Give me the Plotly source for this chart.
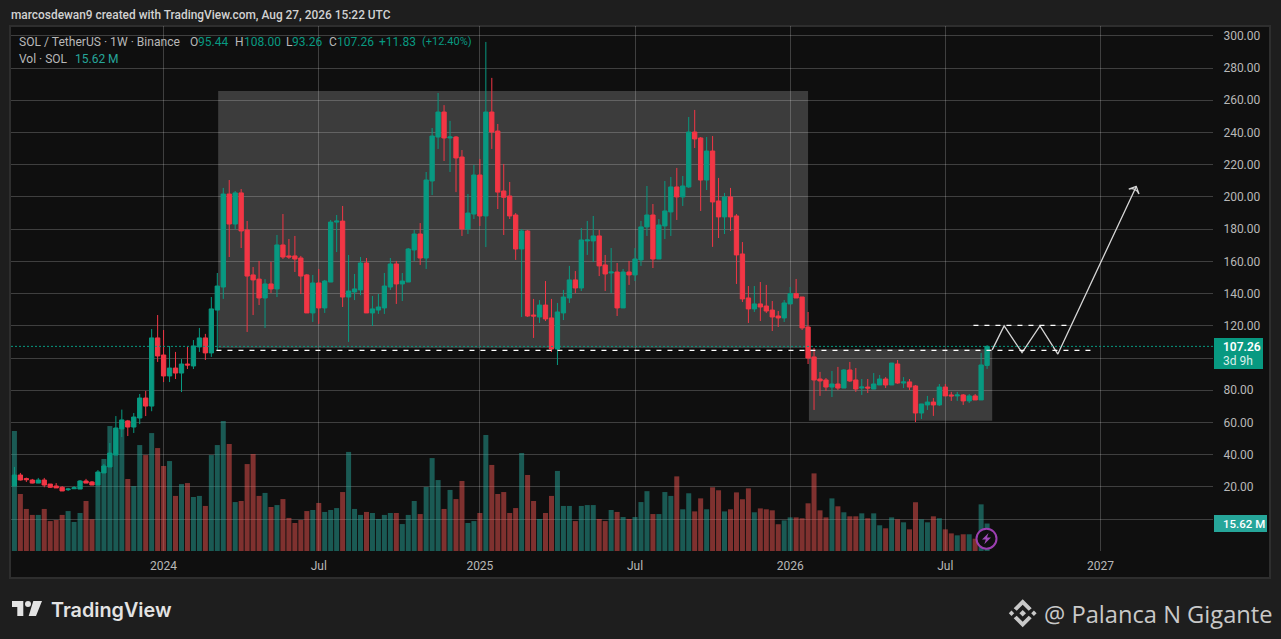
import pandas as pd
import plotly.graph_objects as go

#Data
first_week = "2023-07-10"

opens = [20.6, 27.4, 25.2, 24.3, 22.4, 24.3, 21.8, 20.6, 19.8, 18.3,
         18.9, 18.7, 23.7, 23.1, 21.2, 28.7, 32.4, 39.8, 56.0, 61.0,
         57.2, 62.8, 75.2, 70.2, 112.5, 101.9, 88.9, 93.8, 90.7, 96.3,
         95.1, 106.9, 112.5, 103.2, 129.8, 144.1, 201.8, 183.2, 202.5, 179.5,
         151.6, 149.0, 137.3, 146.0, 142.9, 170.2, 163.4, 163.4, 162.1, 151.6,
         128.0, 146.6, 131.1, 147.2, 184.4, 185.0, 137.9, 141.0, 142.3, 159.0,
         128.0, 129.8, 131.1, 144.1, 158.4, 146.0, 147.2, 167.1, 177.0, 162.1,
         209.9, 237.2, 252.7, 236.6, 237.2, 224.8, 180.1, 189.4, 213.6, 188.2,
         252.7, 240.9, 203.7, 200.6, 188.8, 167.7, 178.9,
         126.7, 125.5, 132.9, 124.9, 105.6, 128.0, 137.3, 148.5, 143.5, 172.7,
         172.7, 175.8, 157.8, 152.8, 153.4, 131.1, 153.4, 151.6, 160.9, 181.4,
         188.8, 161.5, 182.0, 190.7, 206.2, 200.0, 206.2, 240.3, 236.6, 210.5,
         228.5, 197.5, 187.6, 200.0, 188.2, 164.6, 137.3, 130.5, 133.6, 132.3,
         129.8, 126.1, 124.9, 133.6, 140.0, 137.9, 119.3,
         100.7, 87.0, 86.4, 82.0, 83.9, 81.4, 92.6, 86.4, 81.4, 82.0,
         80.8, 83.3, 87.0, 83.3, 96.3, 84.5, 85.2, 82.7, 65.9, 70.9,
         72.7, 70.9, 82.0, 77.1, 76.5, 77.1, 73.4, 76.5, 74.0, 95.44]

highs = [32.4, 28.7, 25.8, 25.0, 25.6, 25.6, 21.8, 22.4, 20.6, 19.4,
         20.6, 24.3, 25.0, 23.7, 30.5, 34.3, 47.3, 64.0, 68.0, 61.6,
         65.9, 77.7, 79.6, 118.0, 126.7, 117.4, 107.5, 103.8, 99.4, 106.9,
         111.2, 118.7, 115.0, 137.9, 152.8, 205.6, 210.5, 203.7, 204.9, 185.1,
         156.5, 160.3, 149.0, 159.6, 176.4, 189.4, 173.9, 175.8, 163.4, 152.2,
         151.6, 155.3, 148.5, 185.7, 188.8, 194.4, 164.0, 152.2, 162.7, 162.1,
         138.5, 139.8, 152.8, 162.1, 160.3, 152.8, 168.3, 179.5, 183.8, 215.5,
         242.8, 264.5, 257.0, 247.2, 237.8, 229.1, 201.8, 219.8, 223.6, 296.2,
         273.9, 245.3, 220.5, 209.3, 190.0, 180.1, 179.5,
         136.7, 136.0, 147.8, 136.7, 134.2, 142.3, 157.2, 154.0, 180.7, 185.1,
         188.2, 179.5, 164.0, 168.3, 159.0, 155.3, 160.3, 168.3, 185.1, 206.8,
         195.6, 186.3, 209.9, 212.4, 218.0, 213.0, 249.6, 254.0, 237.2, 237.2,
         237.8, 211.8, 202.5, 205.6, 189.4, 172.0, 144.7, 144.7, 147.2, 145.4,
         135.4, 129.2, 136.0, 144.1, 149.1, 137.9, 128.6,
         106.2, 91.4, 87.6, 92.0, 94.5, 93.2, 97.6, 93.8, 87.0, 87.0,
         90.7, 89.5, 88.2, 96.9, 98.8, 88.2, 87.0, 83.3, 71.5, 76.5,
         75.2, 83.9, 83.9, 79.0, 79.0, 77.7, 77.7, 77.7, 103.2, 108.0]

lows = [20.6, 24.0, 23.1, 22.2, 22.4, 19.8, 19.4, 19.4, 17.5, 17.5,
        18.7, 18.7, 22.4, 21.2, 21.2, 28.7, 32.4, 39.8, 51.0, 51.6,
        53.5, 59.0, 64.0, 67.0, 97.6, 85.1, 85.1, 87.0, 78.9, 93.2,
        93.2, 103.8, 98.8, 100.7, 105.0, 136.7, 162.7, 180.0, 168.3, 116.2,
        126.7, 132.9, 118.7, 140.4, 137.9, 161.5, 161.5, 153.4, 139.8, 128.0,
        122.4, 121.2, 128.0, 147.2, 165.8, 131.7, 110.0, 136.0, 139.0, 128.0,
        119.9, 127.4, 127.4, 142.3, 133.6, 135.4, 147.2, 160.3, 157.8, 155.3,
        201.2, 229.8, 222.3, 215.5, 203.0, 175.8, 177.0, 186.3, 182.0, 168.9,
        229.8, 192.5, 176.4, 186.3, 160.9, 125.5, 125.5,
        112.5, 121.8, 123.0, 103.8, 95.7, 123.6, 134.2, 140.4, 141.6, 164.0,
        159.6, 150.9, 141.6, 140.4, 126.1, 131.1, 145.4, 147.8, 157.2, 175.8,
        155.9, 161.5, 173.9, 175.8, 185.7, 194.4, 205.6, 230.4, 191.3, 204.3,
        169.0, 174.5, 177.0, 178.9, 146.0, 134.8, 121.8, 128.6, 123.0, 128.0,
        116.8, 119.3, 122.4, 133.6, 137.3, 117.4, 96.3,
        67.8, 76.5, 79.6, 75.8, 80.2, 81.4, 85.2, 79.0, 77.1, 78.3,
        80.8, 83.3, 81.4, 83.3, 84.0, 81.4, 80.2, 60.3, 62.2, 67.8,
        64.1, 70.3, 76.5, 73.4, 73.4, 70.9, 72.1, 74.0, 74.0, 93.26]

closes = [27.4, 24.3, 24.5, 22.4, 24.3, 21.2, 19.8, 19.4, 17.5, 18.7,
          19.5, 23.7, 22.4, 21.2, 29.3, 33.0, 41.0, 56.6, 61.6, 57.2,
          63.4, 75.2, 70.2, 112.5, 101.3, 88.9, 93.8, 90.7, 96.3, 95.7,
          107.5, 112.5, 103.2, 130.5, 144.7, 201.8, 183.2, 202.5, 178.9, 150.9,
          148.5, 137.3, 146.0, 142.9, 170.2, 162.7, 162.7, 161.5, 150.9, 128.0,
          146.6, 131.1, 147.8, 184.4, 185.0, 137.9, 141.6, 142.9, 159.0, 128.0,
          130.5, 131.7, 144.7, 158.4, 146.0, 147.8, 167.7, 177.0, 162.1, 210.5,
          237.8, 252.7, 236.6, 237.2, 224.2, 180.1, 190.0, 213.6, 188.2, 252.7,
          240.3, 203.0, 199.8, 188.2, 167.7, 178.9, 126.1,
          126.1, 132.9, 124.3, 105.6, 128.6, 137.9, 148.5, 143.5, 173.3, 173.3,
          175.8, 157.2, 152.2, 153.4, 131.1, 153.4, 151.6, 161.5, 181.4, 188.8,
          161.5, 182.6, 191.3, 206.2, 200.0, 206.8, 240.3, 236.0, 210.5, 228.5,
          196.9, 187.6, 200.0, 187.6, 164.0, 136.7, 130.5, 133.6, 131.7, 129.2,
          125.5, 124.9, 134.2, 140.0, 137.3, 118.7, 100.0,
          86.4, 85.8, 82.0, 83.9, 81.4, 92.6, 85.8, 80.8, 82.0, 81.4,
          83.9, 87.0, 83.3, 96.9, 84.5, 85.2, 82.0, 65.9, 71.5, 72.7,
          70.9, 82.0, 76.5, 76.5, 77.1, 73.4, 76.5, 74.0, 95.7, 107.26]

#Volume in millions of SOL
volumes = [68.2, 32.4, 23.9, 20.5, 20.5, 23.9, 17.0, 17.6, 20.5, 22.7,
           16.5, 21.6, 28.4, 18.0, 37.5, 52.3, 71.0, 68.7, 69.3, 40.9,
           36.9, 60.2, 54.5, 67.0, 58.5, 48.3, 51.1, 31.3, 38.0, 38.6,
           30.7, 31.3, 25.6, 54.5, 60.2, 73.9, 60.8, 27.8, 28.4, 49.4,
           55.1, 31.3, 33.0, 25.0, 26.1, 29.5, 18.8, 15.9, 17.6, 22.7,
           23.3, 27.3, 22.2, 23.3, 24.4,
           33.5, 56.3, 23.9, 20.5, 22.2, 21.6, 18.2, 20.5, 21.6, 21.6,
           15.3, 20.5, 28.4, 21.0, 36.4, 52.8, 40.3, 23.9, 34.7, 29.5,
           39.8, 15.9, 17.0, 21.6, 65.9, 48.9, 32.4, 33.5, 21.6, 24.4,
           55.7, 43.2, 28.4, 18.2, 21.6, 31.3, 45.5, 25.6, 25.6, 17.0,
           25.6, 26.1, 26.1, 18.2, 17.0, 23.3, 22.2, 19.3, 18.2, 19.3,
           27.8, 34.0, 21.0, 21.0, 33.5, 31.3,
           42.4, 23.7, 32.8, 22.5, 29.9, 23.7, 36.2, 34.5, 22.5, 23.7,
           33.3, 29.4, 35.6, 22.0, 24.2, 23.7, 23.1, 15.2, 17.4, 19.1,
           19.1, 18.6, 27.1, 44.1, 23.1, 19.1, 29.9, 25.4, 22.0, 19.7,
           19.7, 21.4, 18.6, 21.4, 14.6, 12.9, 19.1, 18.0, 16.3, 12.3,
           27.7, 18.0, 16.3, 19.7, 18.6, 12.3, 10.0, 8.9, 9.5, 9.5,
           7.0, 26.5, 15.62]

#Axis ticks
date_ticks = ["2024-01-01", "2024-07-01", "2025-01-06", "2025-07-07",
              "2026-01-05", "2026-07-06", "2027-01-04"]
date_labels = ["2024", "Jul", "2025", "Jul", "2026", "Jul", "2027"]
price_ticks = [0, 20, 40, 60, 80, 100, 120, 140, 160, 180, 200, 220, 240, 260, 280, 300]
price_labels = ["", "20.00", "40.00", "60.00", "80.00", "", "120.00", "140.00", "160.00",
                "180.00", "200.00", "220.00", "240.00", "260.00", "280.00", "300.00"]

#Drawn projection and levels
plan_dates = ["2026-08-30", "2026-09-13", "2026-10-04", "2026-10-25", "2026-11-15", "2027-02-15"]
plan_prices = [105.1, 120.0, 103.4, 120.0, 102.5, 206.5]
last_price = 107.26

UP = "#089981"
DOWN = "#f23645"
VOL_UP = "rgba(38,166,154,0.5)"
VOL_DOWN = "rgba(239,83,80,0.5)"
GRID = "rgba(255,255,255,0.2)"
TEXT = "#b8b8b8"
FONT = "Roboto"

#Pane corners in page pixels
LEFT, RIGHT, TOP, BOTTOM = 11, 1213, 26, 551


def px(x):
    return (x - LEFT) / (RIGHT - LEFT)


def py(y):
    return (BOTTOM - y) / (BOTTOM - TOP)


def poly(points):
    return "M" + " L".join(f"{px(x)},{py(y)}" for x, y in points) + " Z"


def label(x, y, text, color=TEXT, size=12, anchor="left", weight=400, family=FONT):
    return dict(xref="paper", yref="paper", x=px(x), y=py(y), text=text, showarrow=False,
                xanchor=anchor, yanchor="middle", borderpad=0,
                font=dict(family=family, size=size, color=color, weight=weight))


weeks = pd.date_range(first_week, periods=len(closes), freq="7D")
vol_colors = [VOL_UP if c >= o else VOL_DOWN for o, c in zip(opens, closes)]

fig = go.Figure()

#Volume sits on the main axis so the candles draw over it
fig.add_trace(go.Bar(x=weeks, y=volumes, marker=dict(color=vol_colors, line=dict(width=0)), hoverinfo="skip"))

fig.add_trace(go.Candlestick(
    x=weeks, open=opens, high=highs, low=lows, close=closes, yaxis="y2",
    whiskerwidth=0,
    increasing=dict(line=dict(color=UP, width=1), fillcolor=UP),
    decreasing=dict(line=dict(color=DOWN, width=1), fillcolor=DOWN),
))

fig.add_trace(go.Scatter(
    x=plan_dates, y=plan_prices, yaxis="y2", mode="lines+markers",
    line=dict(color="#d6d6d6", width=1.3),
    marker=dict(symbol="arrow-wide-open", angleref="previous", size=[0, 0, 0, 0, 0, 8],
                opacity=[0, 0, 0, 0, 0, 1], color="#d6d6d6", line=dict(color="#d6d6d6", width=1.3)),
))

shapes = [
    #Frame
    dict(type="rect", xref="paper", yref="paper", x0=px(10), x1=px(1270), y0=py(26), y1=py(578),
         fillcolor="#0f0f0f", line=dict(color="#2e2e2e", width=2), layer="below"),
    #Ranges
    dict(type="rect", xref="x", yref="y2", x0="2024-03-05", x1="2026-01-26", y0=106.3, y1=265.8,
         fillcolor="rgba(255,255,255,0.19)", line=dict(width=0), layer="below"),
    dict(type="rect", xref="x", yref="y2", x0="2026-01-27", x1="2026-08-30", y0=61.1, y1=105.5,
         fillcolor="rgba(255,255,255,0.19)", line=dict(width=0), layer="below"),
    #Levels
    dict(type="line", xref="x", yref="y2", x0="2024-03-03", x1="2026-12-25", y0=104.8, y1=104.8,
         line=dict(color="white", width=1.2, dash="5px 6px")),
    dict(type="line", xref="x", yref="y2", x0="2026-08-08", x1="2026-11-28", y0=120.3, y1=120.3,
         line=dict(color="white", width=1.2, dash="5px 6px")),
    dict(type="line", xref="paper", yref="y2", x0=0, x1=1, y0=last_price, y1=last_price,
         line=dict(color=UP, width=1, dash="2px 2px")),
    #Price scale badges
    dict(type="rect", xref="paper", yref="paper", x0=px(1214), x1=px(1263), y0=py(338), y1=py(369),
         fillcolor=UP, line=dict(width=0)),
    dict(type="rect", xref="paper", yref="paper", x0=px(1214), x1=px(1267), y0=py(515), y1=py(532),
         fillcolor="#26a69a", line=dict(width=0)),
    #Lightning badge
    dict(type="circle", xref="paper", yref="paper", x0=px(976.5), x1=px(996.5), y0=py(528.7), y1=py(548.7),
         fillcolor="#0f0f0f", line=dict(color="#9c3fb0", width=2)),
    dict(type="path", xref="paper", yref="paper", fillcolor="#a04ab8", line=dict(width=0),
         path=poly([(988.5, 533), (982, 539.6), (985.8, 539.6), (984.3, 544.3), (991, 537.6), (987, 537.6)])),
    #TradingView mark
    dict(type="path", xref="paper", yref="paper", fillcolor="#e3e3e3", line=dict(width=0),
         path=poly([(12, 601), (23.3, 601), (23.3, 616), (17.3, 616), (17.3, 607), (12, 607)])),
    dict(type="path", xref="paper", yref="paper", fillcolor="#e3e3e3", line=dict(width=0),
         path=poly([(33.3, 601), (42, 601), (36, 616), (28.7, 616)])),
    dict(type="circle", xref="paper", yref="paper", x0=px(25), x1=px(31), y0=py(601), y1=py(607),
         fillcolor="#e3e3e3", line=dict(width=0)),
]

#Binance mark around its centre
for cx, cy, pts in [
    (1022.7, 613.3, [(0, -14), (9, -5), (6, -2.5), (0, -8.5), (-6, -2.5), (-9, -5)]),
    (1022.7, 613.3, [(0, 14), (9, 5), (6, 2.5), (0, 8.5), (-6, 2.5), (-9, 5)]),
    (1022.7, 613.3, [(-3.3, 0), (0, -3.3), (3.3, 0), (0, 3.3)]),
    (1011.5, 613.3, [(-2.7, 0), (0, -2.7), (2.7, 0), (0, 2.7)]),
    (1033.9, 613.3, [(-2.7, 0), (0, -2.7), (2.7, 0), (0, 2.7)]),
]:
    shapes.append(dict(type="path", xref="paper", yref="paper", fillcolor="#c9c9c9", line=dict(width=0),
                       path=poly([(cx + a, cy + b) for a, b in pts])))

annotations = [
    label(10, 15, "marcosdewan9 created with TradingView.com, Aug 27, 2026 15:22 UTC", "#d2d2d2", size=11.9, weight=500),
    label(18, 42, "SOL / TetherUS · 1W · Binance", size=12.1),
    label(189, 42, "O"), label(197, 42, "95.44", UP),
    label(234, 42, "H"), label(243, 42, "108.00", UP),
    label(285, 42, "L"), label(291, 42, "93.26", UP),
    label(328, 42, "C"), label(336, 42, "107.26", UP),
    label(378, 42, "+11.83", UP), label(421, 42, "(+12.40%)", UP, size=11),
    label(18, 59, "Vol · SOL"), label(73.5, 59, "15.62 M", "#26a69a"),
    label(1222, 347, "107.26", "white", weight=600),
    label(1222, 361, "3d 9h", "#dcefeb"),
    label(1222, 523.5, "15.62 M", "white", weight=500, size=11.5),
    label(50, 609.5, "TradingView", "#e3e3e3", size=19.8, weight=600, family="Inter"),
    label(1042.5, 613.5, "@ Palanca N Gigante", "#c9c9c9", size=23.7, family="Open Sans"),
]

fig.update_layout(
    width=1281, height=639,
    margin=dict(l=LEFT, r=1281 - RIGHT, t=TOP, b=639 - BOTTOM, autoexpand=False),
    paper_bgcolor="#1e1e1e", plot_bgcolor="#0f0f0f",
    showlegend=False, bargap=0.16, boxgap=0.28, boxgroupgap=0,
    shapes=shapes, annotations=annotations,
    font=dict(family=FONT, size=12, color=TEXT),
    xaxis=dict(type="date", range=["2023-07-06", "2027-05-16"], rangeslider=dict(visible=False),
               tickmode="array", tickvals=date_ticks, ticktext=date_labels, tickangle=0,
               showgrid=True, gridcolor=GRID, gridwidth=1, zeroline=False, showline=False,
               ticks="outside", ticklen=4, tickcolor="rgba(0,0,0,0)"),
    yaxis=dict(range=[0, 298.3], visible=False, showgrid=False, zeroline=False),
    yaxis2=dict(range=[-19.75, 306.1], overlaying="y", side="right", anchor="x",
                tickmode="array", tickvals=price_ticks, ticktext=price_labels,
                showgrid=True, gridcolor=GRID, gridwidth=1, zeroline=False, showline=False,
                ticks="outside", ticklen=7, tickcolor="rgba(0,0,0,0)"),
)

fig.write_html("out.html", config={"displayModeBar": False}, post_script="document.body.style.margin='0';")
